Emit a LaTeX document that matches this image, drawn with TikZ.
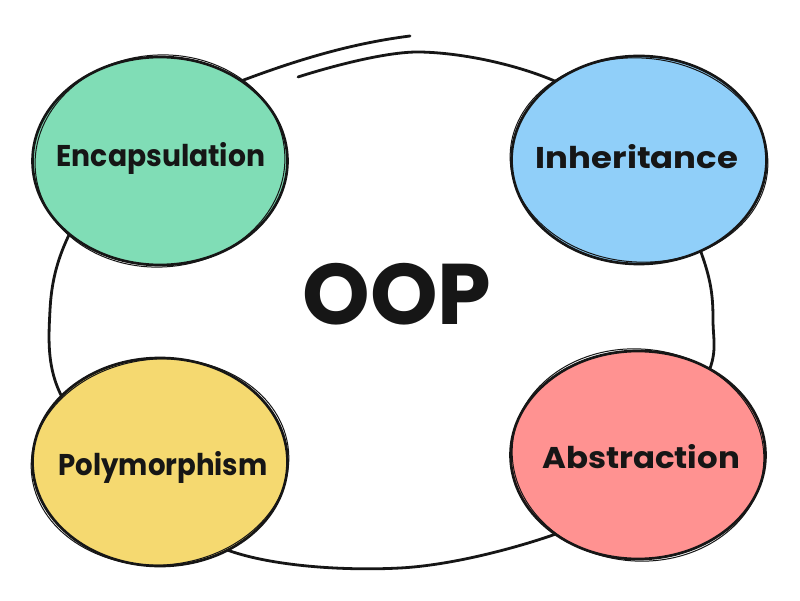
\documentclass[tikz,border=0pt]{standalone}
\usepackage{fontspec}
\setmainfont{Poppins}
\usetikzlibrary{shapes.geometric}
\definecolor{encg}{HTML}{80DDB6}
\definecolor{inhb}{HTML}{90CFF9}
\definecolor{poly}{HTML}{F5D970}
\definecolor{absr}{HTML}{FF9291}
\definecolor{ink}{HTML}{161616}
\tikzset{
  bubble/.style={ellipse, draw=ink, line width=2.7pt, inner sep=0pt,
    minimum width=255pt, minimum height=208pt},
  lbl/.style={inner sep=0pt, font=\fontsize{30}{34}\selectfont\bfseries, text=ink},
  sketch/.style={draw=ink, line width=1pt},
  outline/.style={draw=ink, line width=2.8pt, line cap=round}
}
\begin{document}
\begin{tikzpicture}[x=1pt,y=-1pt]
\useasboundingbox[fill=white] (0,0) rectangle (800,601);
% big outline
\draw[outline] plot[smooth, tension=0.6] coordinates {(298,77) (420,52) (557,82) (655,155) (702,255) (713,320) (702,385) (610,495) (553,535) (400,568) (233,552) (130,480) (60,393) (50,310) (68,237) (120,160)};
\coordinate (s1) at (228,86);
\coordinate (s2) at (410,36);
\draw[outline] (s1) .. controls (300,58) and (355,43) .. (s2);
% bubbles
\node[bubble, fill=encg] (enc) at (160,161) {};
\node[bubble, fill=inhb] (inh) at (639,160) {};
\node[bubble, fill=poly] (pol) at (160,462) {};
\node[bubble, fill=absr] (abs) at (638,455) {};
% sketchy second strokes
\draw[sketch] (160,161) ellipse[x radius=125, y radius=106, rotate=4];
\draw[sketch] (639,160) ellipse[x radius=129, y radius=102, rotate=-4];
\draw[sketch] (160,462) ellipse[x radius=129, y radius=103, rotate=5];
\draw[sketch] (638,455) ellipse[x radius=126, y radius=106, rotate=-5];
% labels
\node[lbl] (encl) at (161,158) {\scalebox{0.94}[1]{Encapsulation}};
\node[lbl] (inhl) at (637,157) {\scalebox{1.13}[1]{Inheritance}};
\node[lbl] (poll) at (163,467) {\scalebox{0.92}[1]{Polymorphism}};
\node[lbl] (absl) at (641,457) {\scalebox{1.08}[1]{Abstraction}};
% title
\node[font=\fontsize{86}{96}\selectfont\bfseries, text=ink] (oop) at (397,294) {OOP};
\end{tikzpicture}
\end{document}
